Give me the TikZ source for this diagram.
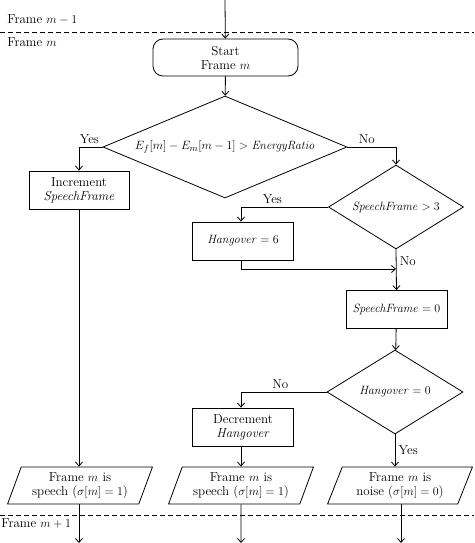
\documentclass[tikz,border=0pt]{standalone}
\usetikzlibrary{shapes.geometric,arrows.meta}
\begin{document}
\begin{tikzpicture}[x=1pt,y=-1pt,
        font=\fontsize{13}{14}\selectfont,
        every path/.style={line width=0.8pt},
        line/.style={-{Straight Barb[length=4pt,width=7pt]}},
        process/.style={draw, minimum width=101pt, minimum height=38pt, align=center, inner sep=1pt},
        startstop/.style={draw, rounded corners=10pt, minimum width=145pt, minimum height=37pt, align=center, inner sep=1pt},
        decision/.style={draw, diamond, inner sep=0pt, align=center},
        io/.style={draw, trapezium, trapezium left angle=68, trapezium right angle=112,
            trapezium stretches=true, minimum width=145pt, minimum height=37pt, align=center, inner sep=1pt},
        framelabel/.style={anchor=west, inner sep=0pt}]
                \useasboundingbox (0,0) rectangle (474,543);

                % frame borders
                \draw[dashed, dash pattern=on 5pt off 3pt] (0,32) -- (474,32);
                \draw[dashed, dash pattern=on 5pt off 3pt] (0,515) -- (474,515);
                \node[framelabel] (prev) at (7,20) {Frame $m-1$};
                \node[framelabel] (cur) at (7,42) {Frame $m$};
                \node[framelabel] (next) at (1,524) {Frame $m+1$};

                \coordinate (in) at (225,0);
                \coordinate (out1) at (79,543);
                \coordinate (out2) at (241,543);
                \coordinate (out3) at (401,543);
                \coordinate (join) at (396,269);

                \node[startstop] (start) at (225.5,57.5) {Start\\Frame $m$};
                \node[decision, shape aspect=2.4, minimum width=244pt, minimum height=102pt] (energy) at (225,147)
                    {$E_f[m]-E_m[m-1]>\mathit{EnergyRatio}$};
                \node[process, minimum width=100pt] (inc) at (79,190) {Increment\\\textit{SpeechFrame}};
                \node[decision, shape aspect=1.6, minimum width=135pt, minimum height=84pt] (sfcheck) at (396,207)
                    {$\mathit{SpeechFrame}>3$};
                \node[process] (hang6) at (243,241) {$\mathit{Hangover}=6$};
                \node[process] (sfzero) at (396.5,309.5) {$\mathit{SpeechFrame}=0$};
                \node[decision, shape aspect=1.6, minimum width=136pt, minimum height=84pt] (hcheck) at (395,392)
                    {$\mathit{Hangover}=0$};
                \node[process] (dec) at (243,427) {Decrement\\\textit{Hangover}};
                \node[io] (speech1) at (80,485.5) {Frame $m$ is\\speech ($\sigma[m]=1$)};
                \node[io] (speech2) at (241,485.5) {Frame $m$ is\\speech ($\sigma[m]=1$)};
                \node[io] (noise) at (400,485.5) {Frame $m$ is\\noise ($\sigma[m]=0$)};

                \draw[line] (in) -- (start);
                \draw[line] (start) -- (energy);
                \draw[line] (energy.west) -| node[above, pos=0.28] {Yes} (inc.north);
                \draw[line] (energy.east) -| node[above, pos=0.2] {No} (sfcheck.north);
                \draw[line] (sfcheck.west) -| node[above, pos=0.32] {Yes} ([xshift=-2pt]hang6.north);
                \draw[line] (sfcheck.south) -- node[right, pos=0.3] {No} (sfzero.north);
                \draw[line] ([xshift=-2pt]hang6.south) |- (join);
                \draw[line] (sfzero) -- (hcheck);
                \draw[line] (hcheck.west) -| node[above, pos=0.27] {No} ([xshift=-2pt]dec.north);
                \draw[line] (hcheck.south) -- node[right] {Yes} (hcheck.south |- noise.north);
                \draw[line] (inc) -- (inc.south |- speech1.north);
                \draw[line] ([xshift=-2pt]dec.south) -- ([xshift=-2pt]dec.south |- speech2.north);
                \draw[line] (speech1.south -| out1) -- (out1);
                \draw[line] (speech2.south) -- (out2);
                \draw[line] (noise.south -| out3) -- (out3);
\end{tikzpicture}
\end{document}
